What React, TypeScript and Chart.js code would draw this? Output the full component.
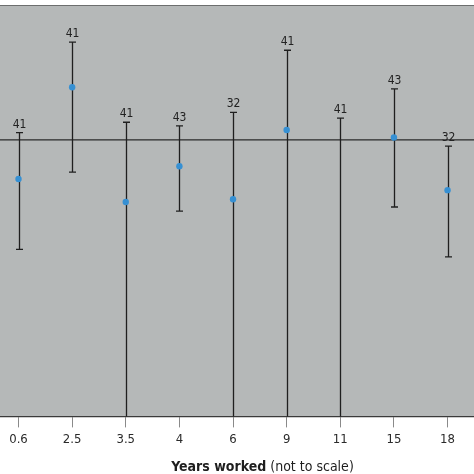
import React, { useEffect, useRef } from "react";
import { Chart, registerables } from "chart.js";

Chart.register(...registerables);

// ---- data ----
const xLabels = ["0.6", "2.5", "3.5", "4", "6", "9", "11", "15", "18"];
const means: (number | null)[] = [57.7, 80.0, 52.1, 60.8, 52.8, 69.6, null, 67.8, 55.0];
const upper = [69.0, 91.0, 71.5, 70.6, 73.9, 89.0, 72.5, 79.6, 65.7];
const lower = [40.6, 59.4, 0, 49.9, 0, 0, 0, 50.9, 38.8];
const counts = ["41", "41", "41", "43", "32", "41", "41", "43", "32"];
const referenceValue = 67.2;
const titleBold = "Years worked";
const titleRest = " (not to scale)";

const Y_MIN = 0;
const Y_MAX = 100;
const FONT = "'DejaVu Sans', sans-serif";

const plotPlugin = {
  id: "plotDecor",
  beforeDraw(chart: any) {
    const { ctx, chartArea } = chart;
    ctx.save();
    ctx.fillStyle = "#b5b8b8";
    ctx.fillRect(chartArea.left, chartArea.top, chartArea.right - chartArea.left, chartArea.bottom - chartArea.top);
    ctx.strokeStyle = "#6c6e6e";
    ctx.lineWidth = 1;
    ctx.beginPath();
    ctx.moveTo(chartArea.left, chartArea.top + 0.5);
    ctx.lineTo(chartArea.right, chartArea.top + 0.5);
    ctx.stroke();
    ctx.restore();
  },
  beforeDatasetsDraw(chart: any) {
    const { ctx, chartArea, scales } = chart;
    const xs = scales.x;
    const ys = scales.y;
    ctx.save();
    const ry = ys.getPixelForValue(referenceValue);
    ctx.strokeStyle = "#2a2a2a";
    ctx.lineWidth = 1.3;
    ctx.beginPath();
    ctx.moveTo(chartArea.left, ry);
    ctx.lineTo(chartArea.right, ry);
    ctx.stroke();
    ctx.strokeStyle = "#1f1f1f";
    ctx.lineWidth = 1.3;
    const cap = 3.5;
    xLabels.forEach((_, i) => {
      const px = Math.round(xs.getPixelForValue(i)) + 0.5;
      const top = ys.getPixelForValue(upper[i]);
      const bot = ys.getPixelForValue(Math.max(lower[i], Y_MIN));
      ctx.beginPath();
      ctx.moveTo(px, top);
      ctx.lineTo(px, bot);
      ctx.moveTo(px - cap, top);
      ctx.lineTo(px + cap, top);
      if (lower[i] > Y_MIN) {
        ctx.moveTo(px - cap, bot);
        ctx.lineTo(px + cap, bot);
      }
      ctx.stroke();
      ctx.fillStyle = "#222";
      ctx.font = `condensed 12px ${FONT}`;
      ctx.textAlign = "center";
      ctx.textBaseline = "alphabetic";
      ctx.fillText(counts[i], px, top - 5);
    });
    ctx.restore();
  },
  afterDraw(chart: any) {
    const { ctx } = chart;
    ctx.save();
    ctx.fillStyle = "#1e1e1e";
    ctx.textBaseline = "alphabetic";
    ctx.textAlign = "left";
    const boldFont = `bold condensed 14px ${FONT}`;
    const normFont = `condensed 14px ${FONT}`;
    ctx.font = boldFont;
    const wb = ctx.measureText(titleBold).width;
    ctx.font = normFont;
    const wn = ctx.measureText(titleRest).width;
    const start = 262.5 - (wb + wn) / 2;
    ctx.font = boldFont;
    ctx.fillText(titleBold, start, 471);
    ctx.font = normFont;
    ctx.fillText(titleRest, start + wb, 471);
    ctx.restore();
  },
};

export default function App() {
  const ref = useRef<HTMLCanvasElement | null>(null);
  useEffect(() => {
    document.body.style.margin = "0";
    document.body.style.background = "#ffffff";
    if (!ref.current) return;
    const chart = new Chart(ref.current, {
      type: "scatter",
      data: {
        datasets: [
          {
            data: means.map((m, i) => ({ x: i, y: m as any })),
            backgroundColor: "#3690d3",
            borderColor: "#3690d3",
            borderWidth: 0,
            pointRadius: 3.2,
          },
        ],
      },
      options: {
        animation: false,
        responsive: true,
        maintainAspectRatio: false,
        layout: { autoPadding: false, padding: { top: 5, bottom: 23, left: 0, right: 0 } },
        plugins: { legend: { display: false }, tooltip: { enabled: false } },
        scales: {
          x: {
            type: "linear",
            min: -0.345,
            max: 8.493,
            afterBuildTicks: (s: any) => {
              s.ticks = xLabels.map((_, i) => ({ value: i }));
            },
            ticks: {
              callback: (v: any) => xLabels[v] ?? "",
              font: { family: FONT, size: 13, weight: "condensed" as any },
              color: "#2a2a2a",
              padding: 4,
              autoSkip: false,
              maxRotation: 0,
            },
            grid: { drawOnChartArea: false, drawTicks: true, tickLength: 11, color: "#8a8a8a", lineWidth: 1 },
            border: { display: true, color: "#3a3a3a", width: 1.2 },
          },
          y: { display: false, min: Y_MIN, max: Y_MAX },
        },
      },
      plugins: [plotPlugin],
    });
    return () => chart.destroy();
  }, []);
  return (
    <div style={{ width: 474, height: 474, position: "relative" }}>
      <canvas ref={ref} />
    </div>
  );
}
